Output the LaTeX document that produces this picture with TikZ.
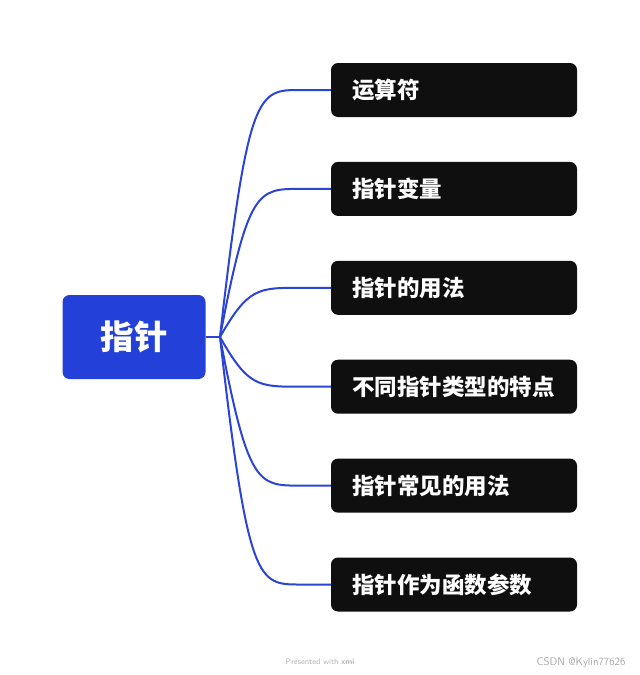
\documentclass[tikz,border=0pt]{standalone}
\usepackage{fontspec}
\usepackage{xcolor}
\usepackage{tikz}
\usetikzlibrary{positioning,calc}
\newfontfamily\cjk{Noto Sans CJK SC}
\definecolor{rootblue}{HTML}{2340D8}
\definecolor{leafblack}{HTML}{0F0F0F}
\definecolor{linkblue}{HTML}{2B44D6}

\begin{document}
\begin{tikzpicture}[x=1pt, y=-1pt, node distance=44.5pt,
    rootbox/.style={fill=rootblue, rounded corners=7pt, minimum width=143pt, minimum height=84pt,
        text=white, font=\cjk\bfseries\fontsize{33.5}{36}\selectfont},
    leafbox/.style={fill=leafblack, rounded corners=7pt, minimum width=246pt, minimum height=54pt,
        inner xsep=21pt, text width=204pt, align=left, text=white,
        font=\cjk\bfseries\fontsize{22.5}{24}\selectfont},
    link/.style={draw=linkblue, line width=2pt}]
    \useasboundingbox (0,0) rectangle (640,675);

    \node [rootbox] (root) at (134,337) {指针};
    \coordinate (junc) at (220,337);

    \node [leafbox] (op) at (454,90) {运算符};
    \node [leafbox, below=of op] (var) {指针变量};
    \node [leafbox, below=of var] (use) {指针的用法};
    \node [leafbox, below=of use] (kind) {不同指针类型的特点};
    \node [leafbox, below=of kind] (common) {指针常见的用法};
    \node [leafbox, below=of common] (arg) {指针作为函数参数};

    \draw [link] (root.east) -- (junc);
    \foreach \leaf in {op,var,use,kind,common,arg}
        \draw [link] (junc) .. controls ($(junc |- \leaf.west)+(28,0)$) and ($(junc |- \leaf.west)+(38,0)$)
            .. ($(junc |- \leaf.west)+(80,0)$) -- (\leaf.west);

    % footer marks
    \node [text=black!30, font=\sffamily\fontsize{8}{9}\selectfont] (credit) at (320,662) {Presented with \textbf{xmi}};
    \node [text=black!35, font=\sffamily\fontsize{11}{13}\selectfont, anchor=east] (mark) at (629,663) {CSDN @Kylin77626};
\end{tikzpicture}
\end{document}
